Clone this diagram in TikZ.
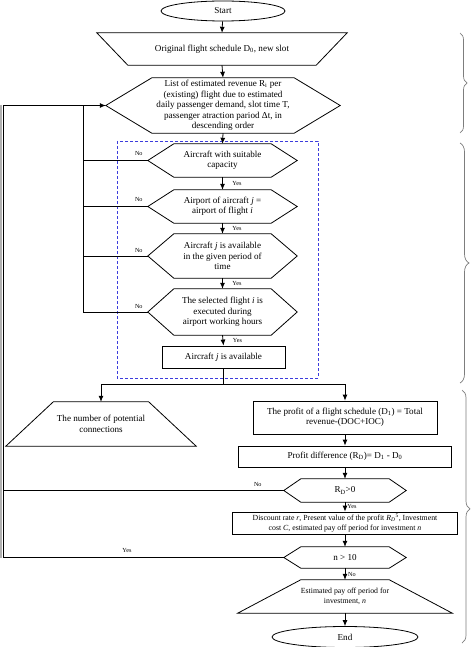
\documentclass[tikz,border=0pt]{standalone}
\usepackage{fontspec}
\setmainfont{Liberation Serif}
\usetikzlibrary{shapes.geometric,arrows.meta,calc,decorations.pathreplacing}
\definecolor{bracegray}{RGB}{125,125,125}
\definecolor{dashblue}{RGB}{60,60,220}
\newcommand\hexa[2]{\draw[line] ($(#1.west)+(-#2,0)$) coordinate (#1-l) -- (#1.north west) -- (#1.north east) -- ($(#1.east)+(#2,0)$) coordinate (#1-r) -- (#1.south east) -- (#1.south west) -- cycle;}
\newcommand\trapdown[2]{\draw[line] (#1.south west) -- ($(#1.north west)+(-#2,0)$) -- ($(#1.north east)+(#2,0)$) -- (#1.south east) -- cycle;}
\newcommand\trapup[2]{\draw[line] (#1.north west) -- ($(#1.south west)+(-#2,0)$) -- ($(#1.south east)+(#2,0)$) -- (#1.north east) -- cycle;}
\begin{document}
\begin{tikzpicture}[x=1pt,y=-1pt,
  line/.style={line width=0.8pt,black},
  arr/.style={line,-{Latex[length=6pt,width=5pt]}},
  txt/.style={font=\fontsize{9.1}{10.5}\selectfont,align=center,inner sep=0pt},
  small/.style={font=\fontsize{7.8}{10}\selectfont,align=center,inner sep=0pt},
  sbox/.style={txt,minimum width=#1},
  rbox/.style={draw,line width=0.8pt,minimum width=#1},
  oval/.style={ellipse,draw,line width=0.8pt,txt},
  lbl/.style={font=\fontsize{6.2}{7}\selectfont,inner sep=0pt},
  dashbox/.style={dashblue,line width=0.8pt,dash pattern=on 3pt off 2pt},
  brc/.style={bracegray,line width=0.7pt,decorate}
]
\useasboundingbox (0,0) rectangle (474,647);

% nodes
\node[oval,minimum width=124pt,minimum height=20pt] (start) at (223,11) {Start};
\node[sbox=188pt,minimum height=32pt] (t1) at (222,49) {Original flight schedule D\textsubscript{0}, new slot};
\node[sbox=142pt,minimum height=55pt] (h2) at (223,105.5) {List of estimated revenue R\textsubscript{i} per\\(existing) flight due to estimated\\daily passenger demand, slot time T,\\passenger atraction pariod Δt, in\\descending order};
\node[sbox=97pt,minimum height=33pt] (h3) at (222.5,160.5) {Aircraft with suitable\\capacity};
\node[sbox=97pt,minimum height=33pt] (h4) at (222.5,206.5) {Airport of aircraft \textit{j} =\\airport of flight \textit{i}};
\node[sbox=97pt,minimum height=44pt] (h5) at (222.5,256) {Aircraft \textit{j} is available\\in the given period of\\time};
\node[sbox=97pt,minimum height=46pt] (h6) at (222.5,312) {The selected flight \textit{i} is\\executed during\\airport working hours};
\node[txt,rbox=123pt,minimum height=22pt] (a) at (223.5,357) {Aircraft \textit{j} is available};
\node[sbox=95pt,minimum height=44pt] (t2) at (101,424) {The number of potential\\connections};
\node[txt,rbox=184pt,minimum height=33pt] (r1) at (345,417.5) {The profit of a flight schedule (D\textsubscript{1}) = Total\\revenue-(DOC+IOC)};
\node[txt,rbox=213pt,minimum height=21pt] (r2) at (345,456.5) {Profit difference (R\textsubscript{D})= D\textsubscript{1} - D\textsubscript{0}};
\node[sbox=88pt,minimum height=23pt] (h7) at (345,490.5) {R\textsubscript{D}>0};
\node[small,rbox=225pt,minimum height=22pt] (r3) at (345,523) {Discount rate \textit{r}, Present value of the profit \textit{R}\textsubscript{\textit{D}}\textsuperscript{5}, Investment\\cost \textit{C}, estimated pay off period for investment \textit{n}};
\node[sbox=88pt,minimum height=21pt] (h8) at (345,557.5) {n > 10};
\node[small,minimum width=86pt,minimum height=33pt] (t3) at (345,596.5) {Estimated pay off period for\\investment, \textit{n}};
\node[oval,minimum width=146pt,minimum height=21pt] (end) at (345,637) {End};

% shapes
\trapdown{t1}{31}
\hexa{h2}{46}
\hexa{h3}{26}
\hexa{h4}{26}
\hexa{h5}{26}
\hexa{h6}{26}
\trapup{t2}{47.5}
\hexa{h7}{17}
\hexa{h8}{17}
\trapup{t3}{63}

% dashed frame
\draw[dashbox] (117,141) rectangle (318,378);

% main arrows
\draw[arr] (start) -- (t1.north);
\draw[arr] (t1.south) -- (h2.north);
\draw[arr] (h2.south) -- (h3.north);
\draw[arr] (h3.south) -- (h4.north);
\draw[arr] (h4.south) -- (h5.north);
\draw[arr] (h5.south) -- (h6.north);
\draw[arr] (h6.south) -- (a.north);
\coordinate (sp) at (223.5,384);
\draw[line] (a.south) -- (sp);
\draw[arr] (sp) -| (t2.north);
\draw[arr] (sp) -| (r1.north);
\draw[arr] (r1.south) -- (r2.north);
\draw[arr] (r2.south) -- (h7.north);
\draw[arr] (h7.south) -- (r3.north);
\draw[arr] (r3.south) -- (h8.north);
\draw[arr] (h8.south) -- (t3.north);
\draw[arr] (t3.south) -- (end.north);

% loops
\coordinate (otop) at (3,105.5);
\coordinate (itop) at (83,105.5);
\draw[bracegray!60,line width=1.6pt] (0.8,105.5) -- (0.8,557.5);
\draw[arr] (h8-l) -- (h8-l -| otop) -- (otop) -- (h2-l);
\draw[line] (h7-l) -- (h7-l -| otop);
\draw[line] (h3-l) -- (h3-l -| itop);
\draw[line] (h4-l) -- (h4-l -| itop);
\draw[line] (h5-l) -- (h5-l -| itop);
\draw[line] (h6-l) -- (h6-l -| itop) -- (itop);

% labels
\node[lbl] (no3) at ($(h3-l)+(-9,-7)$) {No};
\node[lbl] (no4) at ($(h4-l)+(-9,-7)$) {No};
\node[lbl] (no5) at ($(h5-l)+(-9,-6)$) {No};
\node[lbl] (no6) at ($(h6-l)+(-9,-6)$) {No};
\node[lbl] (y3) at ($(h3.south)!0.5!(h4.north)+(14.5,0)$) {Yes};
\node[lbl] (y4) at ($(h4.south)!0.5!(h5.north)+(14.5,0)$) {Yes};
\node[lbl] (y5) at ($(h5.south)!0.5!(h6.north)+(14.5,0)$) {Yes};
\node[lbl] (y6) at ($(h6.south)!0.5!(a.north)+(14.5,0)$) {Yes};
\node[lbl] (no7) at ($(h7-l)+(-26,-6.5)$) {No};
\node[lbl] (y7) at ($(h7.south)!0.5!(r3.north)+(7,0)$) {Yes};
\node[lbl] (y8) at (127,550) {Yes};
\node[lbl] (no8) at ($(h8.south)!0.5!(t3.north)+(7,0)$) {No};

% braces
\draw[brc,decoration={brace,amplitude=7pt}] (460,33) -- (460,133);
\draw[brc,decoration={brace,amplitude=9pt}] (460,143) -- (460,383);
\draw[brc,decoration={brace,amplitude=8pt,aspect=0.47}] (462,390) -- (462,643);
\end{tikzpicture}
\end{document}
